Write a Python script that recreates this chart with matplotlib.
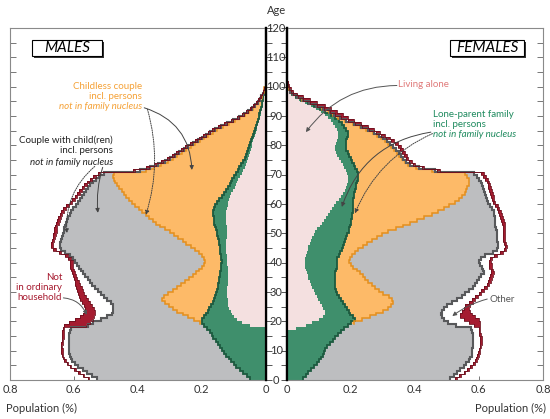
import numpy as np
import matplotlib
matplotlib.use("Agg")
import matplotlib.pyplot as plt
from matplotlib.patches import Rectangle
import matplotlib.transforms as mtransforms

plt.rcParams['font.family'] = ['Lato', 'DejaVu Sans']

# cumulative shares (%) from the centre outwards, one value per single year of age 0..104
ages = np.arange(105)

# males
m_alone = [0, 0, 0, 0, 0, 0, 0, 0, 0, 0,
           0, 0, 0, 0, 0, 0, 0, 0, 0.05, 0.075,
           0.09, 0.1, 0.105, 0.11, 0.115, 0.117, 0.118, 0.119, 0.12, 0.12,
           0.12, 0.12, 0.119, 0.118, 0.118, 0.117, 0.117, 0.118, 0.119, 0.12,
           0.12, 0.121, 0.122, 0.123, 0.124, 0.125, 0.124, 0.123, 0.122, 0.121,
           0.12, 0.121, 0.122, 0.123, 0.124, 0.125, 0.124, 0.123, 0.121, 0.119,
           0.117, 0.115, 0.113, 0.108, 0.102, 0.096, 0.093, 0.09, 0.086, 0.08,
           0.074, 0.07, 0.066, 0.062, 0.058, 0.055, 0.052, 0.049, 0.046, 0.044,
           0.042, 0.04, 0.037, 0.034, 0.031, 0.028, 0.026, 0.024, 0.021, 0.018,
           0.016, 0.014, 0.012, 0.01, 0.008, 0.007, 0.006, 0.004, 0.003, 0.002,
           0.0015, 0.001, 0.0007, 0.0004, 0.0002]
m_lone = [0.049, 0.06, 0.07, 0.08, 0.092, 0.1, 0.108, 0.116, 0.123, 0.13,
          0.137, 0.143, 0.15, 0.157, 0.164, 0.169, 0.175, 0.183, 0.192, 0.2,
          0.2, 0.194, 0.188, 0.182, 0.176, 0.171, 0.166, 0.162, 0.158, 0.155,
          0.152, 0.15, 0.148, 0.146, 0.145, 0.143, 0.142, 0.141, 0.14, 0.139,
          0.138, 0.139, 0.14, 0.142, 0.143, 0.144, 0.145, 0.147, 0.149, 0.151,
          0.153, 0.156, 0.159, 0.161, 0.162, 0.163, 0.164, 0.164, 0.162, 0.158,
          0.152, 0.145, 0.138, 0.132, 0.124, 0.117, 0.113, 0.109, 0.106, 0.1,
          0.094, 0.088, 0.082, 0.076, 0.07, 0.064, 0.061, 0.058, 0.055, 0.052,
          0.049, 0.046, 0.043, 0.04, 0.036, 0.033, 0.031, 0.028, 0.025, 0.022,
          0.02, 0.018, 0.015, 0.013, 0.011, 0.009, 0.008, 0.006, 0.004, 0.003,
          0.002, 0.0014, 0.001, 0.0006, 0.0003]
m_childless = [0.049, 0.06, 0.07, 0.08, 0.092, 0.1, 0.108, 0.116, 0.123, 0.13,
               0.137, 0.143, 0.15, 0.157, 0.164, 0.169, 0.175, 0.183, 0.192, 0.205,
               0.225, 0.243, 0.26, 0.276, 0.29, 0.302, 0.314, 0.324, 0.318, 0.305,
               0.29, 0.277, 0.264, 0.252, 0.24, 0.228, 0.217, 0.208, 0.2, 0.193,
               0.19, 0.193, 0.2, 0.21, 0.222, 0.235, 0.248, 0.26, 0.273, 0.287,
               0.3, 0.315, 0.33, 0.342, 0.353, 0.364, 0.375, 0.386, 0.397, 0.408,
               0.418, 0.427, 0.436, 0.444, 0.451, 0.458, 0.465, 0.471, 0.476, 0.477,
               0.475, 0.375, 0.35, 0.327, 0.307, 0.29, 0.276, 0.262, 0.248, 0.234,
               0.22, 0.206, 0.193, 0.179, 0.166, 0.153, 0.135, 0.116, 0.097, 0.079,
               0.064, 0.052, 0.041, 0.032, 0.024, 0.018, 0.013, 0.009, 0.006, 0.004,
               0.0025, 0.0016, 0.001, 0.0006, 0.0003]
m_couple = [0.529, 0.544, 0.559, 0.573, 0.587, 0.597, 0.606, 0.61, 0.613, 0.615,
            0.614, 0.614, 0.614, 0.614, 0.615, 0.615, 0.612, 0.608, 0.556, 0.54,
            0.515, 0.495, 0.482, 0.477, 0.477, 0.479, 0.485, 0.496, 0.505, 0.515,
            0.524, 0.533, 0.542, 0.55, 0.557, 0.564, 0.571, 0.578, 0.585, 0.591,
            0.597, 0.603, 0.613, 0.627, 0.639, 0.644, 0.643, 0.639, 0.636, 0.634,
            0.632, 0.63, 0.628, 0.625, 0.622, 0.618, 0.613, 0.608, 0.602, 0.595,
            0.587, 0.582, 0.576, 0.569, 0.562, 0.555, 0.549, 0.54, 0.531, 0.52,
            0.505, 0.392, 0.361, 0.337, 0.316, 0.298, 0.284, 0.27, 0.256, 0.242,
            0.228, 0.213, 0.2, 0.186, 0.173, 0.159, 0.141, 0.121, 0.101, 0.082,
            0.067, 0.054, 0.043, 0.034, 0.025, 0.019, 0.014, 0.01, 0.0065, 0.0042,
            0.0027, 0.0017, 0.0011, 0.0007, 0.0003]
m_other = [0.552, 0.567, 0.581, 0.595, 0.608, 0.617, 0.625, 0.63, 0.633, 0.635,
           0.635, 0.636, 0.635, 0.633, 0.632, 0.632, 0.631, 0.63, 0.562, 0.55,
           0.539, 0.537, 0.534, 0.534, 0.538, 0.544, 0.55, 0.557, 0.563, 0.568,
           0.571, 0.576, 0.581, 0.585, 0.589, 0.593, 0.598, 0.6, 0.602, 0.603,
           0.604, 0.609, 0.619, 0.639, 0.656, 0.664, 0.665, 0.662, 0.659, 0.656,
           0.654, 0.653, 0.652, 0.648, 0.644, 0.641, 0.636, 0.631, 0.626, 0.616,
           0.605, 0.597, 0.589, 0.582, 0.575, 0.568, 0.56, 0.552, 0.542, 0.532,
           0.517, 0.408, 0.366, 0.343, 0.322, 0.301, 0.287, 0.273, 0.259, 0.245,
           0.231, 0.215, 0.203, 0.188, 0.175, 0.162, 0.142, 0.122, 0.102, 0.083,
           0.069, 0.056, 0.045, 0.036, 0.027, 0.02, 0.015, 0.0105, 0.007, 0.0045,
           0.003, 0.0019, 0.0012, 0.00075, 0.00035]
m_inst = [0.557, 0.572, 0.586, 0.6, 0.613, 0.622, 0.63, 0.635, 0.638, 0.64,
          0.64, 0.641, 0.64, 0.638, 0.637, 0.637, 0.636, 0.635, 0.632, 0.615,
          0.597, 0.582, 0.571, 0.566, 0.566, 0.57, 0.575, 0.581, 0.585, 0.588,
          0.59, 0.593, 0.596, 0.598, 0.601, 0.604, 0.607, 0.609, 0.611, 0.612,
          0.613, 0.618, 0.628, 0.648, 0.665, 0.673, 0.673, 0.67, 0.667, 0.664,
          0.662, 0.661, 0.66, 0.656, 0.652, 0.649, 0.644, 0.639, 0.634, 0.624,
          0.613, 0.605, 0.597, 0.59, 0.583, 0.576, 0.568, 0.56, 0.55, 0.54,
          0.525, 0.415, 0.373, 0.35, 0.329, 0.308, 0.294, 0.28, 0.266, 0.252,
          0.238, 0.222, 0.21, 0.195, 0.182, 0.169, 0.15, 0.13, 0.11, 0.09,
          0.075, 0.062, 0.05, 0.04, 0.03, 0.023, 0.017, 0.012, 0.008, 0.005,
          0.0035, 0.0022, 0.0014, 0.0008, 0.0004]

# females
f_alone = [0, 0, 0, 0, 0, 0, 0, 0, 0, 0,
           0, 0, 0, 0, 0, 0, 0, 0.03, 0.06, 0.08,
           0.1, 0.112, 0.12, 0.118, 0.114, 0.109, 0.104, 0.099, 0.094, 0.089,
           0.085, 0.08, 0.076, 0.072, 0.068, 0.065, 0.062, 0.06, 0.058, 0.057,
           0.057, 0.057, 0.059, 0.062, 0.065, 0.068, 0.072, 0.076, 0.08, 0.085,
           0.089, 0.096, 0.104, 0.11, 0.117, 0.124, 0.13, 0.136, 0.142, 0.148,
           0.155, 0.162, 0.17, 0.176, 0.181, 0.185, 0.188, 0.19, 0.19, 0.19,
           0.188, 0.184, 0.18, 0.175, 0.17, 0.163, 0.157, 0.153, 0.15, 0.151,
           0.154, 0.157, 0.16, 0.16, 0.16, 0.157, 0.152, 0.145, 0.137, 0.128,
           0.118, 0.108, 0.093, 0.076, 0.057, 0.038, 0.025, 0.015, 0.009, 0.0055,
           0.0035, 0.0022, 0.001, 0.0005, 0.0002]
f_lone = [0.052, 0.06, 0.068, 0.076, 0.085, 0.094, 0.1, 0.106, 0.112, 0.116,
          0.12, 0.127, 0.135, 0.143, 0.151, 0.16, 0.17, 0.18, 0.19, 0.202,
          0.214, 0.206, 0.199, 0.193, 0.187, 0.182, 0.176, 0.168, 0.162, 0.157,
          0.154, 0.152, 0.151, 0.151, 0.151, 0.151, 0.152, 0.154, 0.156, 0.157,
          0.157, 0.158, 0.162, 0.167, 0.172, 0.177, 0.179, 0.181, 0.184, 0.188,
          0.193, 0.195, 0.198, 0.2, 0.202, 0.204, 0.205, 0.206, 0.206, 0.206,
          0.206, 0.207, 0.209, 0.211, 0.213, 0.215, 0.217, 0.219, 0.221, 0.222,
          0.221, 0.218, 0.214, 0.21, 0.205, 0.2, 0.195, 0.19, 0.186, 0.184,
          0.184, 0.186, 0.189, 0.19, 0.19, 0.186, 0.18, 0.172, 0.163, 0.152,
          0.138, 0.12, 0.104, 0.084, 0.065, 0.046, 0.03, 0.018, 0.0105, 0.0065,
          0.004, 0.0025, 0.0012, 0.0006, 0.0003]
f_childless = [0.052, 0.06, 0.068, 0.076, 0.085, 0.094, 0.1, 0.106, 0.112, 0.116,
               0.12, 0.127, 0.135, 0.143, 0.151, 0.16, 0.17, 0.18, 0.19, 0.21,
               0.235, 0.26, 0.28, 0.3, 0.315, 0.326, 0.333, 0.33, 0.318, 0.302,
               0.289, 0.277, 0.265, 0.254, 0.245, 0.237, 0.228, 0.219, 0.208, 0.2,
               0.196, 0.197, 0.203, 0.212, 0.224, 0.238, 0.25, 0.265, 0.281, 0.298,
               0.316, 0.34, 0.362, 0.385, 0.408, 0.43, 0.452, 0.472, 0.49, 0.507,
               0.525, 0.538, 0.548, 0.555, 0.56, 0.564, 0.568, 0.57, 0.568, 0.562,
               0.555, 0.455, 0.405, 0.378, 0.368, 0.36, 0.351, 0.343, 0.335, 0.327,
               0.317, 0.306, 0.294, 0.281, 0.268, 0.249, 0.228, 0.206, 0.182, 0.16,
               0.145, 0.132, 0.111, 0.09, 0.069, 0.048, 0.032, 0.019, 0.011, 0.007,
               0.0042, 0.0027, 0.0013, 0.0007, 0.0003]
f_couple = [0.51, 0.521, 0.531, 0.542, 0.552, 0.56, 0.568, 0.573, 0.578, 0.578,
            0.578, 0.58, 0.583, 0.583, 0.583, 0.581, 0.578, 0.575, 0.53, 0.505,
            0.49, 0.484, 0.482, 0.484, 0.49, 0.5, 0.516, 0.531, 0.547, 0.558,
            0.568, 0.58, 0.589, 0.595, 0.6, 0.608, 0.615, 0.614, 0.61, 0.602,
            0.6, 0.605, 0.62, 0.645, 0.655, 0.661, 0.66, 0.656, 0.655, 0.655,
            0.655, 0.653, 0.651, 0.651, 0.65, 0.649, 0.648, 0.646, 0.64, 0.635,
            0.628, 0.624, 0.621, 0.618, 0.615, 0.612, 0.61, 0.606, 0.6, 0.594,
            0.586, 0.462, 0.412, 0.384, 0.373, 0.364, 0.357, 0.349, 0.341, 0.333,
            0.323, 0.312, 0.3, 0.287, 0.272, 0.253, 0.232, 0.21, 0.186, 0.166,
            0.149, 0.134, 0.113, 0.092, 0.071, 0.05, 0.033, 0.02, 0.0115, 0.0072,
            0.0043, 0.0028, 0.0014, 0.0008, 0.0004]
f_other = [0.526, 0.539, 0.552, 0.563, 0.573, 0.582, 0.589, 0.592, 0.595, 0.597,
           0.599, 0.602, 0.604, 0.604, 0.604, 0.601, 0.599, 0.599, 0.584, 0.568,
           0.553, 0.542, 0.542, 0.546, 0.552, 0.558, 0.568, 0.578, 0.588, 0.599,
           0.607, 0.617, 0.624, 0.629, 0.633, 0.636, 0.638, 0.637, 0.633, 0.632,
           0.63, 0.634, 0.647, 0.667, 0.677, 0.68, 0.678, 0.674, 0.674, 0.674,
           0.674, 0.674, 0.674, 0.672, 0.669, 0.667, 0.664, 0.661, 0.656, 0.65,
           0.643, 0.64, 0.638, 0.635, 0.632, 0.629, 0.627, 0.625, 0.62, 0.614,
           0.607, 0.47, 0.422, 0.394, 0.382, 0.372, 0.366, 0.36, 0.354, 0.347,
           0.337, 0.324, 0.309, 0.294, 0.28, 0.258, 0.236, 0.214, 0.19, 0.17,
           0.152, 0.136, 0.115, 0.094, 0.073, 0.052, 0.034, 0.021, 0.012, 0.0075,
           0.0045, 0.003, 0.0015, 0.0008, 0.0004]
f_inst = [0.531, 0.544, 0.557, 0.568, 0.578, 0.587, 0.594, 0.597, 0.6, 0.602,
          0.604, 0.607, 0.609, 0.609, 0.609, 0.606, 0.604, 0.604, 0.604, 0.604,
          0.6, 0.589, 0.578, 0.572, 0.568, 0.573, 0.58, 0.589, 0.598, 0.607,
          0.615, 0.625, 0.632, 0.637, 0.641, 0.644, 0.646, 0.645, 0.641, 0.64,
          0.638, 0.642, 0.655, 0.675, 0.685, 0.6875, 0.686, 0.682, 0.682, 0.682,
          0.682, 0.682, 0.682, 0.68, 0.677, 0.675, 0.672, 0.669, 0.664, 0.658,
          0.651, 0.648, 0.646, 0.643, 0.64, 0.637, 0.635, 0.633, 0.628, 0.622,
          0.615, 0.478, 0.43, 0.402, 0.39, 0.38, 0.375, 0.37, 0.364, 0.357,
          0.348, 0.336, 0.322, 0.307, 0.292, 0.272, 0.253, 0.232, 0.21, 0.192,
          0.175, 0.158, 0.138, 0.118, 0.095, 0.072, 0.05, 0.033, 0.02, 0.012,
          0.006, 0.004, 0.002, 0.001, 0.0005]

x_ticks = [0, 0.2, 0.4, 0.6, 0.8]
x_tick_labels = ['0', '0.2', '0.4', '0.6', '0.8']
age_labels = list(range(0, 121, 10))

c_pink = '#f4e0e0'
c_green, c_green_edge = '#3f8f6c', '#1c5a3f'
c_orange, c_orange_edge = '#fdba68', '#e58f1c'
c_gray, c_gray_edge = '#bdbec0', '#58595b'
c_red, c_red_edge = '#a51c30', '#6e0f1d'


def steps(vals):
    vals = np.asarray(vals, dtype=float)
    y = np.repeat(np.arange(len(vals) + 1), 2)[1:-1]
    return np.repeat(vals, 2), y


def draw_panel(ax, alone, lone, childless, couple, other, inst):
    zero = np.zeros(len(alone))
    layers = [(zero, alone, c_pink), (alone, lone, c_green),
              (lone, childless, c_orange), (childless, couple, c_gray),
              (couple, other, 'white'), (other, inst, c_red)]
    for lo, hi, col in layers:
        xl, y = steps(lo)
        xh, _ = steps(hi)
        ax.fill_betweenx(y, xl, xh, color=col, lw=0, zorder=2)
    # outer edges of each layer (only where the layer exists)
    edges = [(alone, lone, c_green_edge, 1.3), (lone, childless, c_orange_edge, 1.1),
             (childless, couple, c_gray_edge, 1.5)]
    for lo, hi, col, lw in edges:
        hi = np.asarray(hi, float)
        vis = np.where(hi - np.asarray(lo, float) > 0.0005, hi, np.nan)
        xe, y = steps(vis)
        ax.plot(xe, y, color=col, lw=lw, zorder=3, solid_joinstyle='miter')
    for line in (other, inst):
        xe, y = steps(line)
        ax.plot(xe, y, color=c_red_edge, lw=0.6, zorder=3)


fig = plt.figure(figsize=(5.5, 4.19), dpi=100)
ax_m = fig.add_axes([10 / 550, 39 / 419, 255.7 / 550, 352 / 419])
ax_f = fig.add_axes([286.7 / 550, 39 / 419, 256.3 / 550, 352 / 419])

draw_panel(ax_m, m_alone, m_lone, m_childless, m_couple, m_other, m_inst)
draw_panel(ax_f, f_alone, f_lone, f_childless, f_couple, f_other, f_inst)

ax_m.set_xlim(0.8, 0)
ax_f.set_xlim(0, 0.8)
for ax, inner, outer in ((ax_m, 'right', 'left'), (ax_f, 'left', 'right')):
    ax.set_ylim(0, 120)
    ax.set_xticks(x_ticks)
    ax.set_xticklabels(x_tick_labels)
    ax.set_yticks(range(0, 121, 5))
    ax.set_yticklabels([])
    ax.tick_params(axis='x', direction='in', length=3, width=0.7, color='#777',
                   labelsize=8, labelcolor='#333', pad=3)
    ax.tick_params(axis='y', direction='in', length=4, width=0.7, color='#777',
                   **{inner: False, outer: True})
    for s in ('top', 'bottom', outer):
        ax.spines[s].set_color('#8a8a8a')
        ax.spines[s].set_linewidth(0.8)
    ax.spines[inner].set_color('black')
    ax.spines[inner].set_linewidth(1.6)
    ax.spines[inner].set_zorder(5)
    sec = ax.secondary_yaxis(inner)
    sec.set_yticks(range(0, 121, 5))
    sec.set_yticklabels([])
    sec.tick_params(direction='out', length=4, width=0.7, color='#555')
    sec.spines[inner].set_linewidth(1.6)

# age labels in the centre gap
trans = mtransforms.blended_transform_factory(fig.transFigure, ax_m.transData)
for a in age_labels:
    fig.text(276.2 / 550, a, str(a), transform=trans, ha='center', va='center',
             fontsize=8, color='#333')
fig.text(276.2 / 550, 1 - 10 / 419, 'Age', ha='center', va='center', fontsize=8, color='#333')
fig.text(6 / 550, 11 / 419, 'Population (%)', ha='left', va='center', fontsize=8, color='#333')
fig.text(546 / 550, 11 / 419, 'Population (%)', ha='right', va='center', fontsize=8, color='#333')

# MALES / FEMALES boxes
for x0, w, label in ((32, 70, 'MALES'), (450, 74, 'FEMALES')):
    shadow = Rectangle(((x0 + 2) / 550, (419 - 58) / 419), w / 550, 16 / 419,
                       transform=fig.transFigure, fc='#333', ec='none', zorder=6)
    box = Rectangle((x0 / 550, (419 - 56) / 419), w / 550, 16 / 419,
                    transform=fig.transFigure, fc='white', ec='black', lw=0.8, zorder=7)
    fig.patches.extend([shadow, box])
    fig.text((x0 + w / 2) / 550, (419 - 48) / 419, label, ha='center', va='center',
             fontsize=11, style='italic', color='black', zorder=8)

arrow_kw = dict(arrowstyle='-|>', color='#444', lw=0.7, mutation_scale=6, shrinkA=0, shrinkB=0)
dot_kw = dict(arrow_kw, linestyle=(0, (1.2, 1.2)))
fs = 7.0

# male annotations
c_txt_orange = '#f5a136'
for age_y, txt, st in ((99.9, 'Childless couple', 'normal'), (96.5, 'incl. persons', 'normal'),
                       (93.1, 'not in family nucleus', 'italic')):
    ax_m.text(0.387, age_y, txt, ha='right', va='center', fontsize=fs, color=c_txt_orange,
              style=st, zorder=9)
ax_m.annotate('', xy=(0.231, 71.6), xytext=(0.38, 92.8),
              arrowprops=dict(arrow_kw, connectionstyle='arc3,rad=-0.35'), zorder=9)
ax_m.annotate('', xy=(0.375, 56.3), xytext=(0.37, 92.3),
              arrowprops=dict(dot_kw, connectionstyle='arc3,rad=-0.15'), zorder=9)

for age_y, txt, st in ((81.8, 'Couple with child(ren)', 'normal'), (78.1, 'incl. persons', 'normal'),
                       (74.3, 'not in family nucleus', 'italic')):
    ax_m.text(0.478, age_y, txt, ha='right', va='center', fontsize=fs, color='#222',
              style=st, zorder=9)
ax_m.annotate('', xy=(0.525, 57.0), xytext=(0.51, 72.5),
              arrowprops=dict(arrow_kw, connectionstyle='arc3,rad=0.1'), zorder=9)
ax_m.annotate('', xy=(0.622, 50.0), xytext=(0.535, 72.8),
              arrowprops=dict(dot_kw, connectionstyle='arc3,rad=0.25'), zorder=9)

c_txt_red = '#a6192e'
for age_y, txt in ((35.1, 'Not'), (31.4, 'in ordinary'), (28.0, 'household')):
    ax_m.text(0.637, age_y, txt, ha='right', va='center', fontsize=fs, color=c_txt_red, zorder=9)
ax_m.annotate('', xy=(0.56, 22.2), xytext=(0.633, 28.0),
              arrowprops=dict(arrow_kw, color='#555', connectionstyle='arc3,rad=-0.3'), zorder=9)

# female annotations
ax_f.text(0.348, 100.6, 'Living alone', ha='left', va='center', fontsize=fs, color='#e07a7a', zorder=9)
ax_f.annotate('', xy=(0.06, 84.5), xytext=(0.344, 100.4),
              arrowprops=dict(arrow_kw, color='#555', connectionstyle='arc3,rad=0.25'), zorder=9)

c_txt_green = '#1e8a5e'
for age_y, txt, st in ((90.4, 'Lone-parent family', 'normal'), (87.1, 'incl. persons', 'normal'),
                       (83.8, 'not in family nucleus', 'italic')):
    ax_f.text(0.457, age_y, txt, ha='left', va='center', fontsize=fs, color=c_txt_green,
              style=st, zorder=9)
ax_f.annotate('', xy=(0.172, 59.0), xytext=(0.45, 84.5),
              arrowprops=dict(arrow_kw, connectionstyle='arc3,rad=0.3'), zorder=9)
ax_f.annotate('', xy=(0.213, 56.8), xytext=(0.455, 84.0),
              arrowprops=dict(dot_kw, connectionstyle='arc3,rad=0.2'), zorder=9)

ax_f.text(0.632, 27.6, 'Other', ha='left', va='center', fontsize=fs, color='#555', zorder=9)
ax_f.annotate('', xy=(0.517, 21.8), xytext=(0.626, 27.6),
              arrowprops=dict(arrow_kw, color='#555', connectionstyle='arc3,rad=0.1'), zorder=9)

fig.savefig('out.png', dpi=100)
